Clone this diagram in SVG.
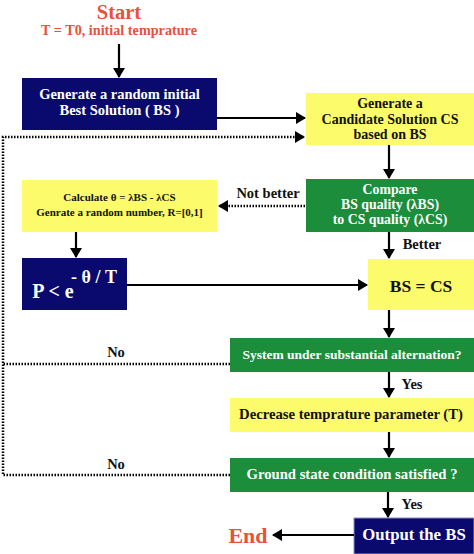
<svg xmlns="http://www.w3.org/2000/svg" width="474" height="554" viewBox="0 0 474 554">
<defs>
<marker id="ah" viewBox="0 0 10 12" refX="9" refY="6" markerWidth="10" markerHeight="12" markerUnits="userSpaceOnUse" orient="auto">
<path d="M0,0 L10,6 L0,12 z" fill="#000"/>
</marker>
<style>
text{font-family:'Liberation Serif','Times New Roman',serif;font-weight:bold;text-anchor:middle}
.navy{fill:#0a0a6e}
.yel{fill:#fbfb6c}
.grn{fill:#1c8d3a}
.w{fill:#fff}
.k{fill:#111}
.red{fill:#e8523a}
.ln{stroke:#000;stroke-width:2.2;fill:none}
.dot{stroke:#000;stroke-width:2.5;fill:none;stroke-dasharray:1.5 1.5}
.lbl{font-size:14.5px;fill:#111}
</style>
</defs>
<rect width="474" height="554" fill="#fff"/>
<g id="start">
<text x="119" y="18.5" font-size="20.5" class="red">Start</text>
<text x="119" y="35" font-size="14.2" class="red">T = T0, initial temprature</text>
</g>
<g id="init">
<rect x="22" y="78" width="195" height="52" class="navy"/>
<text x="119.5" y="99" font-size="14.5" class="w">Generate a random initial</text>
<text x="119.5" y="115" font-size="14.5" class="w">Best Solution ( BS )</text>
</g>
<g id="candidate">
<rect x="306" y="93" width="168" height="52" class="yel"/>
<text x="390" y="108" font-size="14" class="k">Generate a</text>
<text x="390" y="124" font-size="14" class="k">Candidate Solution CS</text>
<text x="390" y="139" font-size="14" class="k">based on BS</text>
</g>
<g id="compare">
<rect x="306" y="179" width="168" height="53" class="grn"/>
<text x="390" y="194" font-size="13.8" class="w">Compare</text>
<text x="390" y="209" font-size="13.8" class="w">BS quality (λBS)</text>
<text x="390" y="224" font-size="13.8" class="w">to CS quality (λCS)</text>
</g>
<g id="calc">
<rect x="22" y="180" width="195" height="52" class="yel"/>
<text x="119.5" y="201" font-size="11" class="k">Calculate θ = λBS - λCS</text>
<text x="119.5" y="216" font-size="11" class="k">Genrate a random number, R=[0,1]</text>
</g>
<g id="prob">
<rect x="22" y="258" width="105" height="52" class="navy"/>
<text x="53" y="298" font-size="20" class="w">P &lt; e</text>
<text x="94" y="283" font-size="18" class="w">- θ / T</text>
</g>
<g id="bscs">
<rect x="368" y="259" width="106" height="51" class="yel"/>
<text x="421" y="292" font-size="17.5" class="k">BS = CS</text>
</g>
<g id="alternation">
<rect x="230" y="338" width="244" height="34" class="grn"/>
<text x="352" y="359" font-size="13.5" class="w">System under substantial alternation?</text>
</g>
<g id="decrease">
<rect x="230" y="398" width="244" height="34" class="yel"/>
<text x="351" y="419" font-size="14.7" class="k">Decrease temprature parameter (T)</text>
</g>
<g id="ground">
<rect x="230" y="458" width="244" height="34" class="grn"/>
<text x="352" y="479" font-size="14.7" class="w">Ground state condition satisfied ?</text>
</g>
<g id="output">
<rect x="354" y="518" width="120" height="36" class="navy" stroke="#8a8ad0" stroke-width="1"/>
<text x="414" y="540" font-size="16.8" class="w">Output the BS</text>
</g>
<g id="end">
<text x="248" y="543" font-size="22" class="red">End</text>
</g>
<g id="connectors">
<line x1="119" y1="44" x2="119" y2="77" class="ln" marker-end="url(#ah)"/>
<line x1="217" y1="118" x2="305" y2="118" class="ln" marker-end="url(#ah)"/>
<line x1="389" y1="145" x2="389" y2="178" class="ln" marker-end="url(#ah)"/>
<line x1="305" y1="206" x2="219" y2="206" class="dot" marker-end="url(#ah)"/>
<line x1="76" y1="232" x2="76" y2="257" class="ln" marker-end="url(#ah)"/>
<line x1="389" y1="232" x2="389" y2="258" class="ln" marker-end="url(#ah)"/>
<line x1="127" y1="285" x2="367" y2="285" class="ln" marker-end="url(#ah)"/>
<line x1="389" y1="310" x2="389" y2="337" class="ln" marker-end="url(#ah)"/>
<line x1="389" y1="372" x2="389" y2="397" class="ln" marker-end="url(#ah)"/>
<line x1="389" y1="432" x2="389" y2="457" class="ln" marker-end="url(#ah)"/>
<line x1="388" y1="492" x2="388" y2="517" class="ln" marker-end="url(#ah)"/>
<line x1="354" y1="535" x2="273" y2="535" class="ln" marker-end="url(#ah)"/>
<polyline points="230,475 3,475 3,137 304,137" class="dot" marker-end="url(#ah)"/>
<line x1="230" y1="364" x2="3" y2="364" class="dot"/>
<text x="268" y="198" class="lbl">Not better</text>
<text x="422" y="249" class="lbl">Better</text>
<text x="116" y="357" class="lbl">No</text>
<text x="412" y="389" class="lbl">Yes</text>
<text x="116" y="469" class="lbl">No</text>
<text x="412" y="509" class="lbl">Yes</text>
</g>
</svg>
